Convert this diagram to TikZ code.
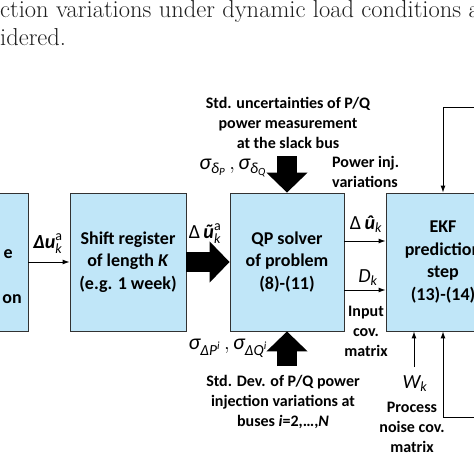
\documentclass[tikz,border=0pt]{standalone}
\usepackage{amsmath}
\usepackage{fontspec}
\newfontfamily\carl{Carlito}
\usetikzlibrary{arrows.meta,calc}
\definecolor{boxfill}{RGB}{192,230,248}
\definecolor{boxline}{RGB}{50,50,50}
\definecolor{textgray}{RGB}{30,30,30}
\newcommand{\ti}[1]{\text{\mdseries\itshape #1}}
\newcommand{\tbi}[1]{\text{\bfseries\itshape #1}}
\newcommand{\tr}[1]{\text{\mdseries\upshape #1}}
\begin{document}
\begin{tikzpicture}[x=1pt,y=-1pt,
  box/.style={draw=boxline, fill=boxfill, line width=0.8pt, minimum height=138pt, inner sep=0pt, align=center, font=\carl\fontsize{18}{22.5}\selectfont\bfseries},
  lab/.style={inner sep=0pt, align=center, font=\carl\fontsize{16}{20}\selectfont\bfseries},
  mlab/.style={inner sep=0pt, font=\carl\fontsize{20}{24}\selectfont\bfseries},
  slab/.style={inner sep=0pt, font=\carl\fontsize{22}{26}\selectfont\bfseries},
  conn/.style={line width=1pt, -{Latex[length=7pt,width=5pt]}},
  big/.style={line width=20pt, -{Triangle[length=20pt,width=40pt]}}]
\useasboundingbox (0,0) rectangle (474,474);
\clip (0,0) rectangle (474,474);
% top text
\node[anchor=base west, inner sep=0pt, font=\fontsize{24.5}{29}\selectfont, text=textgray] (t1) at (0,17) {ction variations under dynamic load conditions a};
\node[anchor=base west, inner sep=0pt, font=\fontsize{24.5}{29}\selectfont, text=textgray] (t2) at (0,45) {idered.};
% boxes
\node[box, minimum width=100pt] (lb) at (-22,262) {};
\node[anchor=base east, inner sep=0pt, font=\carl\fontsize{18}{22.5}\selectfont\bfseries] (le) at (13,258) {e};
\node[anchor=base east, inner sep=0pt, font=\carl\fontsize{18}{22.5}\selectfont\bfseries] (lo) at (22,303) {on};
\node[box, minimum width=116pt] (sr) at (128,262) {Shift register\\of length \textit{K}\\(e.g. 1 week)};
\node[box, minimum width=114pt] (qp) at (287,262) {QP solver\\of problem\\(8)-(11)};
\node[box, minimum width=114pt] (ekf) at (443,262) {EKF\\prediction\\step\\(13)-(14)};
% big arrows
\draw[big] (sr.east) -- (qp.west);
\coordinate (ta) at (287,156);
\draw[big] (ta) -- (qp.north);
\coordinate (ba) at (287,366);
\draw[big] (ba) -- (qp.south);
% thin connectors
\draw[conn] (lb.east) -- (sr.west);
\coordinate (yh) at (0,241);
\coordinate (yd) at (0,290);
\draw[conn] (qp.east |- yh) -- (ekf.west |- yh);
\draw[conn] (qp.east |- yd) -- (ekf.west |- yd);
\coordinate (wk0) at (414,367);
\draw[conn] (wk0) -- (wk0 |- ekf.south);
\coordinate (fb1) at (480,417);
\coordinate (fb2) at (443,417);
\draw[conn] (fb1) -- (fb2) -- (fb2 |- ekf.south);
\coordinate (ft1) at (480,107);
\coordinate (ft2) at (443,107);
\draw[conn] (ft1) -- (ft2) -- (ft2 |- ekf.north);
% labels
\node[lab] (toplab) at (288,123) {Std. uncertainties of P/Q\\power measurement\\at the slack bus};
\node[slab] (sdl) at (233,168) {$\ti{σ}_{\ti{δ}_{\ti{P}}}\,,\ti{σ}_{\ti{δ}_{\ti{Q}}}$};
\node[lab, align=left, anchor=west] (pinj) at (332,172) {Power inj.\\variations};
\node[mlab] (duh) at (366,224) {$\tr{Δ}\,\tbi{û}_{\ti{k}}$};
\node[mlab] (dk) at (368,278) {$\ti{D}_{\ti{k}}$};
\node[lab] (icm) at (366,331) {Input\\cov.\\matrix};
\node[slab] (sdb) at (228,348) {$\ti{σ}_{\ti{ΔP}^{\ti{i}}}\,,\ti{σ}_{\ti{ΔQ}^{\ti{i}}}$};
\node[lab] (sdd) at (283,402) {Std. Dev. of P/Q power\\injection variations at\\buses \textit{i}=2,…,\textit{N}};
\node[mlab] (wk) at (415,384) {$\ti{W}_{\ti{k}}$};
\node[lab] (pnc) at (412,427) {Process\\noise cov.\\matrix};
\node[mlab] (dua) at (48,244) {$\tbi{Δu}_{\ti{k}}^{\tr{a}}$};
\node[mlab] (dut) at (205,234) {$\tr{Δ}\,\tbi{ũ}_{\ti{k}}^{\tr{a}}$};
\end{tikzpicture}
\end{document}
